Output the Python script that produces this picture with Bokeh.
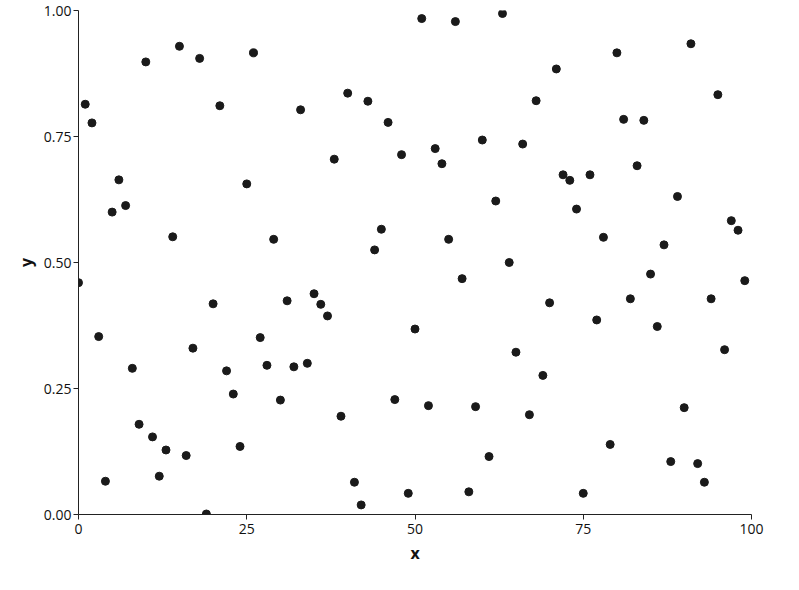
from bokeh.plotting import figure
from bokeh.models import Range1d, FixedTicker, NumeralTickFormatter, ColumnDataSource
from bokeh.embed import file_html
from bokeh.resources import INLINE

x_values = list(range(100))
y_values = [
    0.460, 0.814, 0.777, 0.353, 0.066, 0.600, 0.664, 0.613, 0.290, 0.179,
    0.898, 0.154, 0.076, 0.128, 0.551, 0.929, 0.117, 0.330, 0.905, 0.001,
    0.418, 0.811, 0.285, 0.239, 0.135, 0.656, 0.916, 0.351, 0.296, 0.546,
    0.227, 0.424, 0.293, 0.803, 0.300, 0.438, 0.417, 0.394, 0.705, 0.195,
    0.836, 0.064, 0.019, 0.820, 0.525, 0.566, 0.778, 0.228, 0.714, 0.042,
    0.368, 0.984, 0.216, 0.726, 0.696, 0.546, 0.978, 0.468, 0.045, 0.214,
    0.743, 0.115, 0.622, 0.994, 0.500, 0.322, 0.735, 0.198, 0.821, 0.276,
    0.420, 0.884, 0.674, 0.663, 0.606, 0.042, 0.674, 0.386, 0.550, 0.139,
    0.916, 0.784, 0.428, 0.692, 0.782, 0.477, 0.373, 0.535, 0.105, 0.631,
    0.212, 0.934, 0.101, 0.064, 0.428, 0.833, 0.327, 0.583, 0.564, 0.464,
]
x_ticks = [0, 25, 50, 75, 100]
y_ticks = [0.0, 0.25, 0.5, 0.75, 1.0]

FONT = "Open Sans"

p = figure(
    frame_width=673, frame_height=504,
    x_range=Range1d(0, 100), y_range=Range1d(0, 1),
    output_backend="svg", toolbar_location=None,
    min_border_left=78, min_border_right=40, min_border_top=10, min_border_bottom=60,
    x_axis_label="x", y_axis_label="y",
)
p.outline_line_color = None
p.grid.grid_line_color = None
p.background_fill_color = "white"
p.border_fill_color = "white"

src = ColumnDataSource(dict(x=x_values, y=y_values))
p.scatter("x", "y", source=src, size=8, fill_color="#1a1a1a", line_color="#1a1a1a")

p.xaxis.ticker = FixedTicker(ticks=x_ticks)
p.yaxis.ticker = FixedTicker(ticks=y_ticks)
p.yaxis.formatter = NumeralTickFormatter(format="0.00")

for ax in (p.xaxis[0], p.yaxis[0]):
    ax.axis_line_color = "#222222"
    ax.major_tick_line_color = "#222222"
    ax.major_tick_out = 5
    ax.major_tick_in = 0
    ax.minor_tick_line_color = None
    ax.major_label_text_font = FONT
    ax.major_label_text_font_size = "14px"
    ax.major_label_text_color = "#111111"
    ax.axis_label_text_font = FONT
    ax.axis_label_text_font_size = "16px"
    ax.axis_label_text_font_style = "bold"
    ax.axis_label_text_color = "#111111"

p.xaxis[0].major_label_standoff = 4
p.yaxis[0].major_label_standoff = 2
p.xaxis[0].axis_label_standoff = 5
p.yaxis[0].axis_label_standoff = 4

open("out.html", "w").write(file_html(p, INLINE))
